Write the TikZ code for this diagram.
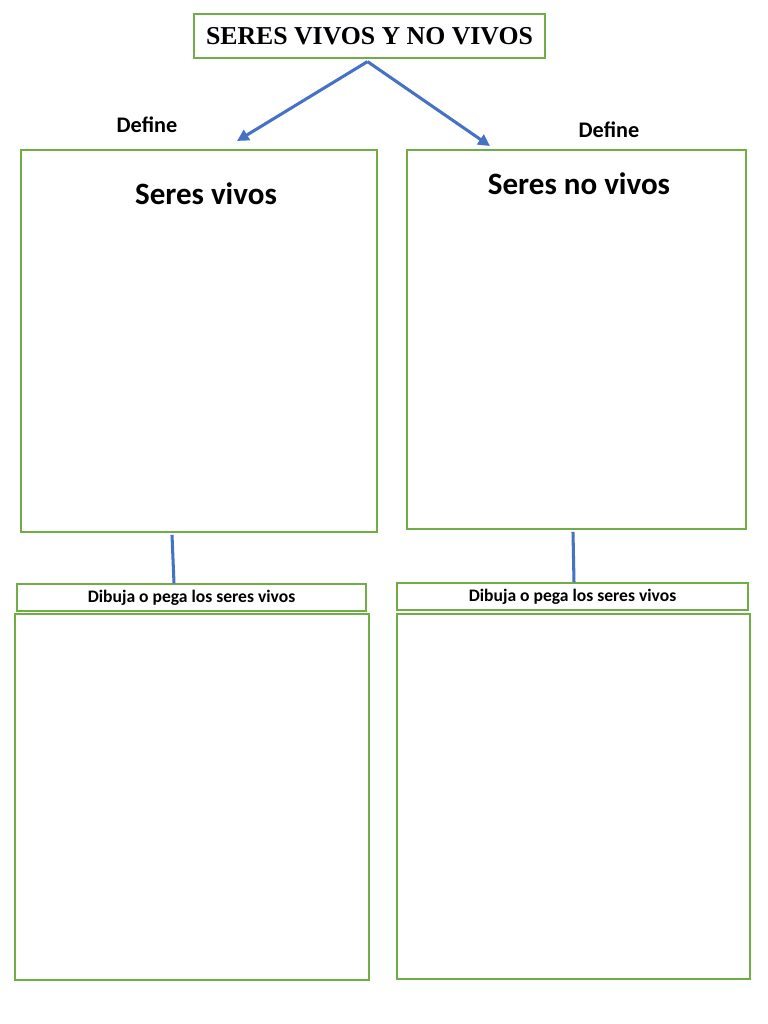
\documentclass[tikz,border=0pt]{standalone}
\usepackage{fontspec}
\setmainfont{Carlito}
\newfontfamily\titlefont{Liberation Serif}
\usetikzlibrary{arrows.meta}

\tikzset{
  box/.style={draw=boxgreen, line width=1pt, inner sep=0pt},
  link/.style={draw=linkblue, line width=2.6pt},
  arrowlink/.style={link, -{Triangle[length=10pt,width=10pt]}}
}
\definecolor{boxgreen}{RGB}{112,173,71}
\definecolor{linkblue}{RGB}{68,114,196}

\begin{document}
\begin{tikzpicture}[x=0.03cm,y=-0.03cm]
\useasboundingbox[fill=white] (0,0) rectangle (768,1024);
% title
\node[box, minimum width=10.53cm, minimum height=1.32cm] (title) at (369.5,36)
  {\titlefont\bfseries\fontsize{22}{26}\selectfont SERES VIVOS Y NO VIVOS};
% upper boxes
\node[box, minimum width=10.68cm, minimum height=11.46cm] (vivos) at (199,341) {};
\node[box, minimum width=10.17cm, minimum height=11.37cm] (novivos) at (576.5,339.5) {};
\node (vivostxt) at (206,194) {\bfseries\fontsize{26.5}{30}\selectfont Seres vivos};
\node (novivostxt) at (579,184) {\bfseries\fontsize{26.5}{30}\selectfont Seres no vivos};
\node (defA) at (147,125) {\bfseries\fontsize{19}{22}\selectfont Define};
\node (defB) at (609,130) {\bfseries\fontsize{19}{22}\selectfont Define};
% arrows
\coordinate (endA) at (237,141);
\coordinate (endB) at (490,146);
\draw[arrowlink] (title.south) ++(-2,3) coordinate (start) -- (endA);
\draw[arrowlink] (start) -- (endB);
% lower boxes
\node[box, minimum width=10.47cm, minimum height=0.81cm] (dibA) at (191.5,597.5)
  {\bfseries\fontsize{15}{17}\selectfont Dibuja o pega los seres vivos};
\node[box, minimum width=10.53cm, minimum height=0.81cm] (dibB) at (572.5,596.5)
  {\bfseries\fontsize{15}{17}\selectfont Dibuja o pega los seres vivos};
\node[box, minimum width=10.62cm, minimum height=10.98cm] (drawA) at (192,797) {};
\node[box, minimum width=10.59cm, minimum height=10.95cm] (drawB) at (573.5,796.5) {};
\draw[link] ([yshift=-2]vivos.south -| 172,0) -- (dibA.north -| 174,0);
\draw[link] ([yshift=-2]novivos.south -| 573,0) -- (dibB.north -| 574,0);
\end{tikzpicture}
\end{document}
